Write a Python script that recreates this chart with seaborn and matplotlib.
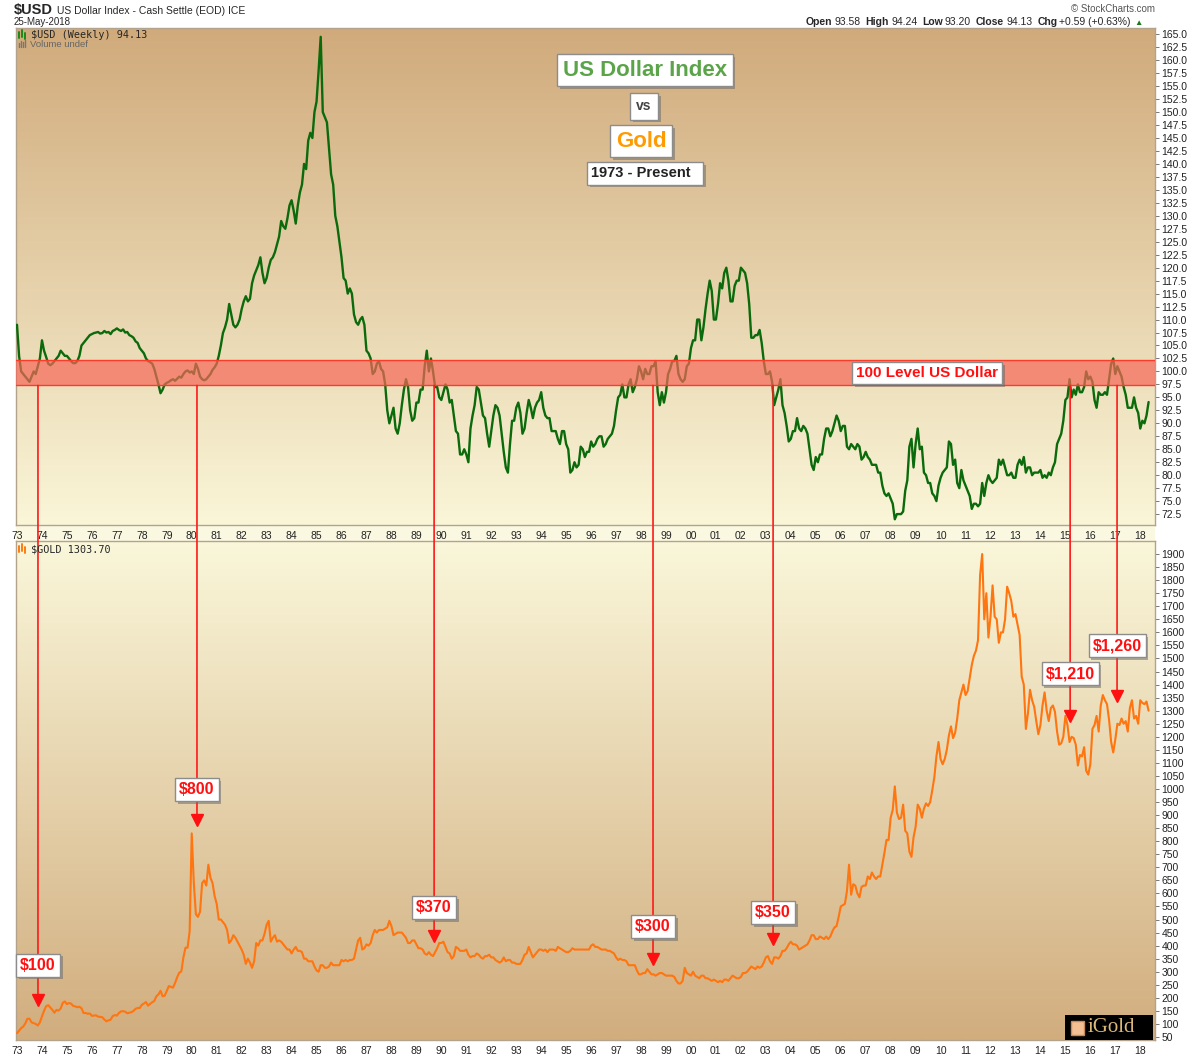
import numpy as np
import pandas as pd
import matplotlib
matplotlib.use("Agg")
import matplotlib.pyplot as plt
import matplotlib.patheffects as pe
from matplotlib.colors import LinearSegmentedColormap
from matplotlib.patches import ConnectionPatch, Rectangle
from matplotlib.lines import Line2D
import seaborn as sns

# -------- DATA (monthly, Jan 1973 .. May 2018) --------
usd_monthly = [
    109, 103, 100, 99.5, 99, 98.5, 98, 99, 100, 99.5, 101, 102.5,          # 1973
    106, 104, 102.8, 101.5, 101.2, 101.5, 102, 102.5, 103, 104, 103.5, 103,  # 1974
    103, 102.5, 102, 101.6, 101.6, 102, 103, 105, 105.5, 106, 106.5, 107,  # 1975
    107.2, 107.4, 107.5, 107.6, 107.3, 107.4, 107.8, 107.5, 107.6, 107.2, 107.8, 108,  # 1976
    108.3, 108, 107.8, 108.1, 107.5, 107.6, 107, 106.8, 106.5, 105.8, 105.5, 104.5,  # 1977
    104, 103.5, 102.5, 102, 101.8, 101.5, 100.5, 99, 97.5, 95.8, 96.5, 97.5,  # 1978
    97.8, 98, 98.3, 98.5, 98.2, 98.6, 99, 98.8, 99.5, 100, 100.2, 99.8,      # 1979
    100, 99.5, 101.5, 100.5, 99, 98.5, 98.3, 98.5, 99, 99.5, 100.3, 100.8,   # 1980
    101.5, 103, 105, 107.4, 108.5, 110, 113, 111, 109, 108.5, 109, 110,      # 1981
    112, 113.5, 114.5, 113.5, 114, 117, 118.5, 119.5, 120.5, 122, 119, 117,  # 1982
    118, 120, 121.5, 122, 123, 124.5, 126, 129, 128, 127.5, 129.5, 132,      # 1983
    133, 131, 128.5, 132, 134.5, 136, 140, 139, 144.5, 146, 145, 150,        # 1984
    152, 158, 164.5, 150, 149, 148, 143, 138, 136, 130, 128, 125,            # 1985
    122, 118, 117.5, 115, 116, 115, 111, 109.5, 109, 110, 110.5, 109,        # 1986
    104, 103.5, 102.5, 99.5, 100, 101.5, 102, 100.5, 100, 97.5, 92.5, 90,    # 1987
    91.5, 93, 89, 88, 90, 93.5, 96.5, 98.5, 97, 92.5, 90.5, 91,              # 1988
    94, 94, 96.5, 96.5, 101, 104, 100, 102.5, 100, 97, 97, 95,               # 1989
    94.5, 96, 97.5, 96.5, 94, 94.5, 91.5, 88.5, 88, 84, 84, 85,              # 1990
    84, 82.5, 89, 91.5, 93.5, 97, 96.5, 94, 91.5, 91, 88, 85.5,              # 1991
    88.5, 91.5, 93.5, 93, 91.5, 88, 84.5, 81.5, 80.5, 86, 90.5, 90.5,        # 1992
    93, 94, 92, 88, 89, 92, 94.5, 93, 91, 93, 94, 94.5,                      # 1993
    96, 93, 91.5, 91, 91, 88.5, 88.5, 88.5, 87, 86, 88.5, 88.5,              # 1994
    86, 85, 80.5, 81, 82.5, 81.5, 82, 85.5, 85, 83.5, 84.5, 84.5,            # 1995
    86.5, 85.5, 86, 87, 87.5, 87.5, 85.5, 86, 87, 87.5, 88, 89.5,            # 1996
    92.5, 95, 95.5, 97.5, 95, 95, 97.5, 98.5, 96, 97, 98.5, 101,             # 1997
    100, 98.5, 100.5, 99.5, 99.5, 101, 101, 102, 96, 93.5, 96, 94,           # 1998
    96, 99.5, 100.5, 102, 102, 103, 99.5, 98.5, 98, 98.5, 101, 101.5,        # 1999
    104.5, 106, 106, 110, 110, 106, 108.5, 112, 115, 117.5, 115.5, 110,      # 2000
    110, 113, 117, 116, 119, 120, 117.5, 113.5, 113.5, 116.5, 117.5, 117.5,  # 2001
    120, 119.5, 119, 117, 113, 106.5, 106.5, 107, 107, 108, 105.5, 102,      # 2002
    99.5, 99.5, 100, 98, 93.5, 95, 96.5, 98.5, 93.5, 92, 89.5, 86.5,         # 2003
    87, 88.5, 88.5, 91, 89, 88.5, 89.5, 89, 88, 85, 82, 81,                  # 2004
    83.5, 82.5, 84, 84, 87, 89, 89, 87.5, 88.5, 90, 91.5, 90.5,              # 2005
    88.5, 89.5, 89.5, 85.5, 85, 86, 85.5, 85, 86, 85.5, 83, 83.5,            # 2006
    84.5, 83.5, 83, 82, 82, 82, 80.5, 80.5, 78, 76.5, 76, 76.5,              # 2007
    75.5, 74.5, 71.5, 72.5, 72.5, 72.5, 73, 77, 79, 85.5, 87, 81.5,          # 2008
    86, 89, 85, 85.5, 80.5, 80, 78.5, 78.5, 76.5, 76, 75, 78,                # 2009
    79.5, 80.5, 81, 81.5, 86.5, 86, 82, 83, 78.5, 77.5, 81, 79,              # 2010
    78, 77, 76, 73.5, 74.5, 74.5, 74, 74.5, 78.5, 76, 78.5, 80,              # 2011
    79, 78.5, 79, 79.5, 83, 82, 83, 81.5, 80, 80, 80.5, 79.5,                # 2012
    79.5, 82, 83, 82, 83.5, 80.5, 81.5, 81.5, 80, 80.5, 80.5, 80.5,          # 2013
    81, 79.5, 80, 79.5, 80.5, 80, 81.5, 82.5, 86, 87, 88, 90.5,              # 2014
    94.5, 95, 98.5, 95, 96.5, 95.5, 97.5, 96, 96, 97, 100, 98.5,             # 2015
    99, 98, 94.5, 93, 96, 95.5, 95.5, 96, 95.5, 98.5, 101.5, 102.5,          # 2016
    99.5, 101, 100, 99, 97, 95.5, 93, 93, 93, 95, 93, 92,                    # 2017
    89, 90.5, 90, 91.5, 94.1,                                                # 2018
]

gold_monthly = [
    65, 74, 84, 90, 102, 120, 120, 106, 103, 100, 94, 106,                   # 1973
    129, 150, 168, 172, 163, 154, 143, 154, 151, 159, 181, 186,              # 1974
    176, 180, 178, 169, 167, 164, 166, 160, 142, 142, 139, 140,              # 1975
    131, 132, 133, 128, 127, 126, 117, 110, 114, 116, 130, 134,              # 1976
    132, 142, 148, 149, 147, 141, 143, 145, 150, 158, 161, 161,              # 1977
    173, 178, 184, 170, 177, 183, 188, 206, 213, 227, 206, 208,              # 1978
    227, 245, 242, 239, 257, 279, 296, 301, 355, 392, 392, 455,              # 1979
    830, 640, 520, 510, 530, 640, 650, 630, 710, 660, 640, 590,              # 1980
    560, 500, 500, 490, 480, 460, 410, 420, 440, 430, 415, 400,              # 1981
    385, 365, 330, 350, 335, 315, 340, 410, 400, 420, 420, 445,              # 1982
    480, 495, 415, 430, 440, 415, 420, 415, 405, 395, 385, 385,              # 1983
    370, 385, 395, 380, 380, 375, 350, 350, 340, 340, 340, 320,              # 1984
    305, 300, 325, 325, 315, 315, 320, 335, 325, 325, 325, 325,              # 1985
    345, 340, 345, 340, 345, 345, 350, 385, 420, 430, 385, 390,              # 1986
    405, 400, 410, 440, 460, 450, 460, 460, 460, 465, 470, 495,              # 1987
    475, 440, 445, 450, 450, 450, 440, 430, 410, 410, 420, 420,              # 1988
    405, 390, 390, 385, 370, 365, 375, 365, 360, 375, 390, 410,              # 1989
    410, 415, 395, 375, 370, 350, 360, 395, 390, 380, 380, 380,              # 1990
    385, 365, 355, 360, 360, 370, 365, 355, 350, 360, 360, 365,              # 1991
    355, 355, 345, 340, 335, 340, 355, 340, 345, 345, 335, 335,              # 1992
    330, 330, 330, 345, 365, 370, 395, 375, 355, 365, 375, 385,              # 1993
    385, 380, 385, 375, 385, 385, 385, 380, 395, 390, 385, 380,              # 1994
    375, 375, 380, 390, 385, 385, 385, 385, 385, 385, 385, 385,              # 1995
    400, 405, 395, 395, 390, 385, 385, 385, 380, 380, 375, 370,              # 1996
    355, 345, 350, 345, 345, 340, 325, 325, 325, 325, 305, 290,              # 1997
    290, 295, 295, 310, 300, 290, 290, 285, 290, 295, 295, 290,              # 1998
    285, 285, 285, 285, 280, 265, 255, 255, 265, 315, 295, 290,              # 1999
    285, 300, 285, 280, 275, 285, 285, 275, 275, 270, 265, 270,              # 2000
    265, 260, 265, 260, 270, 270, 265, 275, 285, 280, 275, 275,              # 2001
    280, 295, 295, 300, 310, 320, 315, 310, 320, 315, 320, 335,              # 2002
    355, 360, 340, 330, 355, 355, 350, 360, 380, 380, 390, 405,              # 2003
    415, 405, 405, 400, 385, 390, 395, 400, 405, 420, 440, 440,              # 2004
    425, 425, 435, 430, 425, 435, 425, 435, 455, 470, 475, 510,              # 2005
    550, 555, 560, 610, 710, 595, 635, 630, 600, 585, 625, 630,              # 2006
    630, 665, 655, 680, 665, 655, 665, 665, 710, 755, 805, 805,              # 2007
    890, 920, 1010, 910, 885, 890, 940, 840, 830, 760, 740, 815,             # 2008
    855, 940, 925, 890, 925, 945, 935, 950, 995, 1045, 1125, 1180,           # 2009
    1115, 1095, 1115, 1150, 1205, 1240, 1195, 1215, 1270, 1340, 1370, 1400,  # 2010
    1360, 1375, 1425, 1475, 1510, 1530, 1570, 1820, 1900, 1650, 1750, 1580,  # 2011
    1660, 1780, 1660, 1650, 1560, 1600, 1600, 1650, 1775, 1750, 1720, 1660,  # 2012
    1670, 1630, 1590, 1430, 1400, 1230, 1290, 1380, 1340, 1315, 1260, 1210,  # 2013
    1245, 1320, 1370, 1300, 1260, 1310, 1320, 1295, 1220, 1170, 1175, 1200,  # 2014
    1280, 1245, 1180, 1200, 1195, 1170, 1090, 1130, 1125, 1160, 1070, 1055,  # 2015
    1095, 1230, 1245, 1280, 1220, 1320, 1360, 1340, 1325, 1265, 1180, 1140,  # 2016
    1190, 1250, 1245, 1270, 1250, 1260, 1220, 1310, 1340, 1270, 1280, 1250,  # 2017
    1340, 1330, 1325, 1335, 1300,                                            # 2018
]

event_years = [1973.84, 1980.21, 1989.71, 1998.48, 2003.29, 2015.19, 2017.07]
event_labels = ["$100", "$800", "$370", "$300", "$350", "$1,210", "$1,260"]

# -------- SETUP --------
sns.set_style("white")
plt.rcParams["font.family"] = ["Liberation Sans", "DejaVu Sans"]

W, H = 1200, 1056


def fx(x):
    return x / W


def fy(y):
    return 1 - y / H


df_usd = pd.DataFrame({"year": 1973 + np.arange(len(usd_monthly)) / 12.0, "usd": usd_monthly})
df_gold = pd.DataFrame({"year": 1973 + np.arange(len(gold_monthly)) / 12.0, "gold": gold_monthly})

fig = plt.figure(figsize=(W / 100, H / 100), dpi=100)
fig.patch.set_facecolor("white")

# strip between the panels
fig.add_artist(Rectangle((fx(16), fy(541)), (1155 - 16) / W, 16 / H, transform=fig.transFigure,
                         facecolor="#fbf8e2", edgecolor="none", zorder=0))

ax1 = fig.add_axes([fx(16), fy(525), (1155 - 16) / W, (525 - 28) / H])
ax2 = fig.add_axes([fx(16), fy(1040), (1155 - 16) / W, (1040 - 541) / H])


def paint(ax, top, bottom):
    cmap = LinearSegmentedColormap.from_list("bg", [bottom, top])
    grad = np.linspace(0, 1, 256).reshape(-1, 1)
    ax.imshow(grad, cmap=cmap, extent=[0, 1, 0, 1], transform=ax.transAxes,
              aspect="auto", origin="lower", zorder=0)


paint(ax1, "#d0aa7b", "#faf6d8")
paint(ax2, "#faf7da", "#d1ad7e")

# -------- LINES --------
sns.lineplot(data=df_usd, x="year", y="usd", ax=ax1, color="#0b6a0b", linewidth=1.7,
             estimator=None, zorder=3)
sns.lineplot(data=df_gold, x="year", y="gold", ax=ax2, color="#ff7510", linewidth=1.5,
             estimator=None, zorder=3)

# 100 level band
ax1.axhspan(97.3, 102.2, facecolor="#f56758", alpha=0.7, edgecolor="none", zorder=4)
ax1.axhline(97.3, color="#ff3a2a", lw=1, zorder=4)
ax1.axhline(102.2, color="#ff3a2a", lw=1, zorder=4)

# -------- AXES --------
xlim = (1972.96, 2018.59)
for ax in (ax1, ax2):
    ax.set_xlim(*xlim)
    ax.set_xlabel("")
    ax.set_ylabel("")
    ax.yaxis.tick_right()
    ax.set_xticks(range(1973, 2019))
    ax.set_xticklabels([f"{y % 100:02d}" for y in range(1973, 2019)])
    ax.tick_params(axis="x", length=3, width=0.7, color="#777", labelsize=7.5, pad=1, labelcolor="#222")
    ax.tick_params(axis="y", length=3, width=0.7, color="#777", labelsize=7.5, pad=1.5,
                   labelcolor="#222", right=True, left=False)
    for s in ax.spines.values():
        s.set_color("#b3a38c")
        s.set_linewidth(1)

ax1.set_ylim(70.4, 166.2)
usd_ticks = np.arange(72.5, 165.01, 2.5)
ax1.set_yticks(usd_ticks)
ax1.set_yticklabels([f"{v:.1f}" for v in usd_ticks])

ax2.set_ylim(38.5, 1950)
gold_ticks = np.arange(50, 1901, 50)
ax2.set_yticks(gold_ticks)
ax2.set_yticklabels([f"{v}" for v in gold_ticks])


def boxed(ax, x, y, s, color, size, pad=0.3):
    t = ax.text(x, y, s, color=color, fontsize=size, fontweight="bold", ha="center", va="center", zorder=7,
                bbox=dict(boxstyle=f"square,pad={pad}", fc="white", ec="#8c8c8c", lw=1))
    t.get_bbox_patch().set_path_effects([pe.withSimplePatchShadow(offset=(2, -2),
                                                                 shadow_rgbFace="#666", alpha=0.5)])
    return t


# title boxes
boxed(ax1, 1998.16, 158.1, "US Dollar Index", "#5ba449", 16, 0.25)
boxed(ax1, 1998.12, 151.1, "vs", "#444444", 10, 0.45)
boxed(ax1, 1998.0, 144.4, "Gold", "#ff9a00", 16, 0.25)
boxed(ax1, 1998.16, 138.2, "1973 - Present  ", "#222222", 10.5)
boxed(ax1, 2009.46, 99.7, "100 Level US Dollar", "#ff1010", 11, 0.25)

# -------- EVENT LINES + PRICE LABELS --------
arrow_gold = [191, 883, 435, 348, 424, 1281, 1357]
label_gold = [325, 998, 546, 474, 527, 1441, 1548]
for yr, lab, ag, lg in zip(event_years, event_labels, arrow_gold, label_gold):
    con = ConnectionPatch(xyA=(yr, 97.3), coordsA=ax1.transData, xyB=(yr, ag), coordsB=ax2.transData,
                          color="#ff1a1a", lw=1.2, zorder=5)
    con.set_clip_on(False)
    ax2.add_artist(con)
    ax2.plot([yr], [ag], marker="v", markersize=9, color="#ff1010", zorder=6, clip_on=False)
    boxed(ax2, yr, lg, lab, "#ff1010", 11.5, 0.25)

# -------- HEADER TEXT --------
renderer = fig.canvas.get_renderer()


def row(x, y, parts):
    for s, kw, gap in parts:
        t = fig.text(fx(x), fy(y), s, va="baseline", ha="left", **kw)
        x += t.get_window_extent(renderer).width + gap


row(14, 14, [("$USD", dict(fontsize=10.5, fontweight="bold"), 4),
             ("US Dollar Index - Cash Settle (EOD) ICE", dict(fontsize=7.5), 0)])
fig.text(fx(14), fy(25), "25-May-2018", fontsize=7, va="baseline")
fig.text(fx(1155), fy(12), "\u00a9 StockCharts.com", fontsize=7, color="#555", ha="right", va="baseline")
b = dict(fontsize=7.5, fontweight="bold")
n = dict(fontsize=7.5)
row(806, 25, [("Open", b, 2), ("93.58", n, 5), ("High", b, 2), ("94.24", n, 5), ("Low", b, 2),
              ("93.20", n, 5), ("Close", b, 2), ("94.13", n, 5), ("Chg", b, 2),
              ("+0.59 (+0.63%)", n, 3), ("\u25b2", dict(fontsize=6, color="#1a7a1a"), 0)])

# panel legends
fig.text(fx(31), fy(38), "$USD (Weekly) 94.13", fontsize=7.3, family="DejaVu Sans Mono", va="baseline")
fig.text(fx(30), fy(47), "Volume undef", fontsize=6.8, color="#666", va="baseline")
fig.text(fx(31), fy(552), "$GOLD 1303.70", fontsize=7.3, family="DejaVu Sans Mono", va="baseline")
for x0, col, yy in [(19, "#1a8a1a", 30), (19, "#ff7a10", 544)]:
    for dx, y0, y1 in [(0, 2, 8), (3, 0, 7), (6, 3, 9)]:
        fig.add_artist(Line2D([fx(x0 + dx)] * 2, [fy(yy + y0), fy(yy + y1)], color=col, lw=1.4))
for dx, hh in [(0, 4), (2, 6), (4, 5), (6, 7)]:
    fig.add_artist(Line2D([fx(19 + dx)] * 2, [fy(47), fy(47 - hh)], color="#777", lw=1))

# iGold watermark
fig.add_artist(Rectangle((fx(1065), fy(1040)), 88 / W, 25 / H, transform=fig.transFigure,
                         facecolor="black", edgecolor="none", zorder=3))
fig.add_artist(Rectangle((fx(1071), fy(1035)), 13 / W, 14 / H, transform=fig.transFigure,
                         facecolor="#f3bf93", edgecolor="#c98a5a", lw=1, zorder=4))
fig.text(fx(1088), fy(1028), "iGold", fontsize=15, family=["Liberation Serif", "DejaVu Serif"],
         color="#dcb877", va="center", ha="left", zorder=5)

fig.savefig("out.png", dpi=100)
